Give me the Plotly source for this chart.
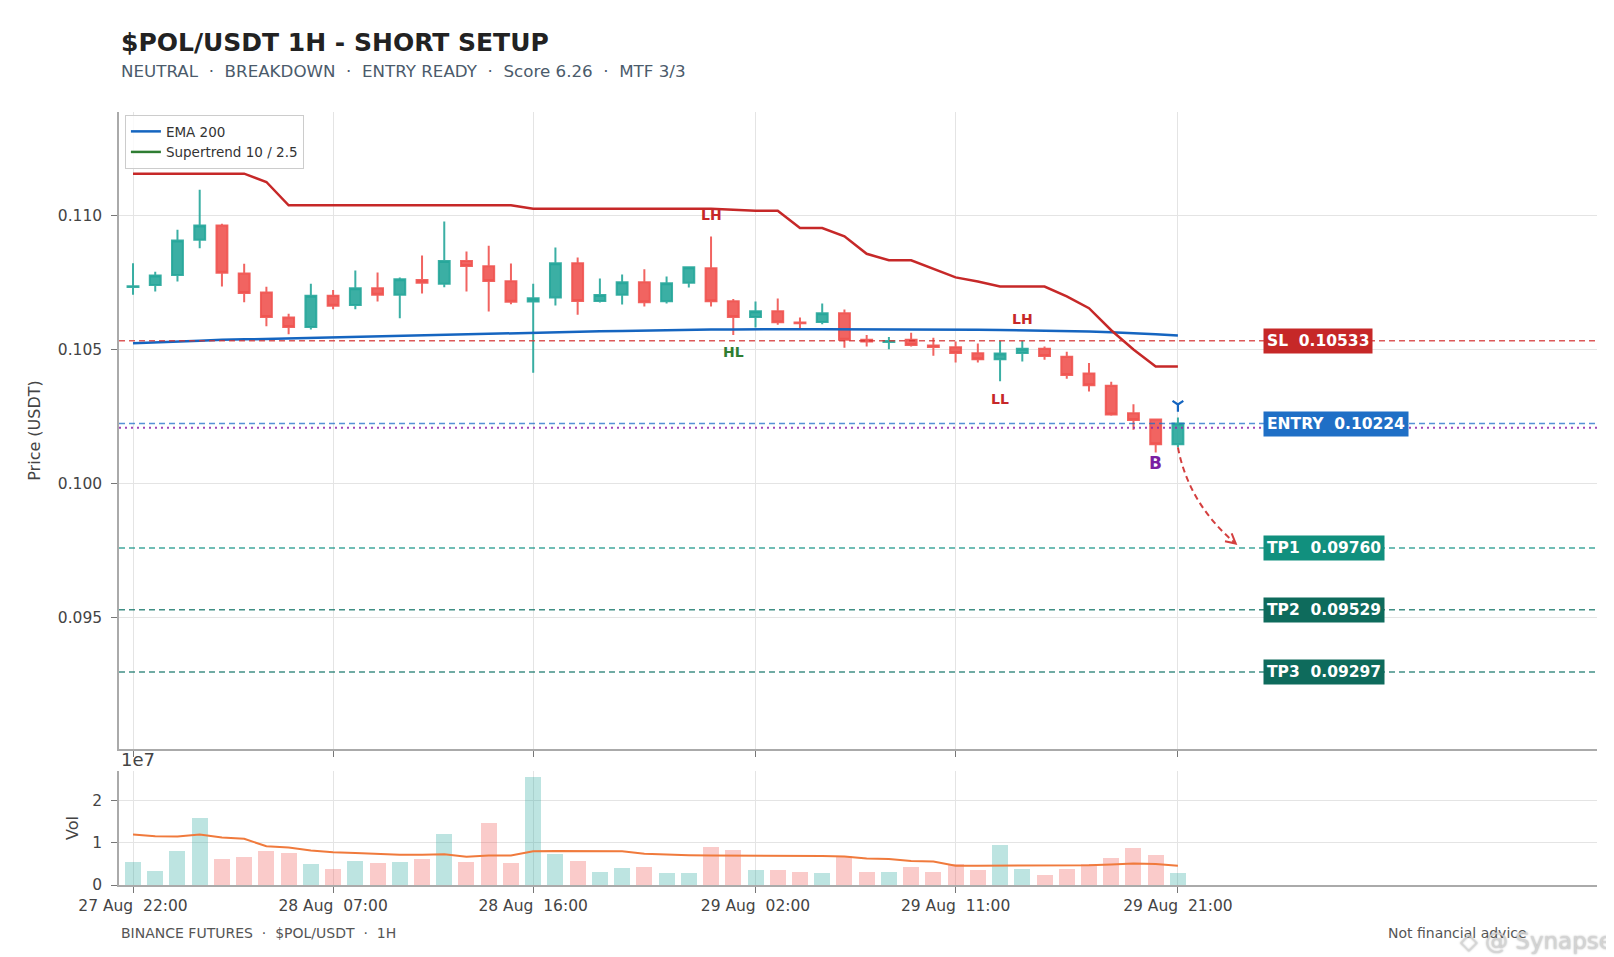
import numpy as np
import plotly.graph_objects as go
from plotly.subplots import make_subplots

NB = "\u00a0"
FONT = "DejaVu Sans"

# 1H candles, 27 Aug 22:00 -> 29 Aug 21:00
opens = [0.10733, 0.10741, 0.10778, 0.10909, 0.10963, 0.10784, 0.10713, 0.10619,
         0.10584, 0.10701, 0.10666, 0.10729, 0.10704, 0.10759, 0.10745, 0.10830,
         0.10811, 0.10755, 0.10679, 0.10694, 0.10822, 0.10681, 0.10704, 0.10751,
         0.10680, 0.10749, 0.10803, 0.10680, 0.10621, 0.10643, 0.10601, 0.10603,
         0.10635, 0.10536, 0.10528, 0.10536, 0.10515, 0.10508, 0.10486, 0.10464,
         0.10487, 0.10503, 0.10473, 0.10411, 0.10365, 0.10262, 0.10239, 0.10147]
highs = [0.10822, 0.10790, 0.10947, 0.11096, 0.10969, 0.10820, 0.10734, 0.10633,
         0.10745, 0.10722, 0.10795, 0.10787, 0.10769, 0.10851, 0.10978, 0.10866,
         0.10887, 0.10821, 0.10745, 0.10881, 0.10843, 0.10765, 0.10780, 0.10799,
         0.10772, 0.10811, 0.10922, 0.10688, 0.10679, 0.10690, 0.10619, 0.10672,
         0.10649, 0.10554, 0.10547, 0.10563, 0.10544, 0.10530, 0.10522, 0.10533,
         0.10533, 0.10511, 0.10492, 0.10450, 0.10380, 0.10296, 0.10242, 0.10246]
lows = [0.10704, 0.10716, 0.10754, 0.10878, 0.10735, 0.10676, 0.10587, 0.10557,
        0.10575, 0.10650, 0.10650, 0.10679, 0.10617, 0.10709, 0.10732, 0.10716,
        0.10642, 0.10669, 0.10413, 0.10664, 0.10630, 0.10675, 0.10668, 0.10660,
        0.10672, 0.10731, 0.10660, 0.10554, 0.10582, 0.10592, 0.10577, 0.10594,
        0.10507, 0.10511, 0.10501, 0.10511, 0.10477, 0.10452, 0.10452, 0.10382,
        0.10455, 0.10462, 0.10391, 0.10343, 0.10253, 0.10201, 0.10116, 0.10135]
closes = [0.10736, 0.10776, 0.10907, 0.10963, 0.10786, 0.10711, 0.10621, 0.10584,
          0.10701, 0.10663, 0.10729, 0.10704, 0.10762, 0.10749, 0.10830, 0.10812,
          0.10756, 0.10678, 0.10691, 0.10822, 0.10681, 0.10703, 0.10751, 0.10676,
          0.10747, 0.10807, 0.10680, 0.10621, 0.10643, 0.10602, 0.10598, 0.10635,
          0.10536, 0.10530, 0.10532, 0.10517, 0.10509, 0.10487, 0.10464, 0.10485,
          0.10503, 0.10476, 0.10405, 0.10367, 0.10258, 0.10237, 0.10147, 0.10224]

volumes = [5.4e6, 3.3e6, 8.0e6, 15.9e6, 6.1e6, 6.6e6, 8.0e6, 7.5e6,
           4.9e6, 3.7e6, 5.6e6, 5.2e6, 5.4e6, 6.3e6, 12.1e6, 5.4e6,
           14.7e6, 5.2e6, 25.6e6, 7.3e6, 5.6e6, 3.0e6, 4.0e6, 4.4e6,
           2.8e6, 2.8e6, 9.1e6, 8.4e6, 3.5e6, 3.5e6, 3.0e6, 2.8e6,
           6.8e6, 3.2e6, 3.2e6, 4.2e6, 3.2e6, 4.9e6, 3.5e6, 9.4e6,
           3.9e6, 2.5e6, 3.7e6, 4.9e6, 6.5e6, 8.9e6, 7.2e6, 2.8e6]
vol_ma = [12.0e6, 11.6e6, 11.5e6, 12.0e6, 11.3e6, 11.0e6, 9.2e6, 8.9e6,
          8.2e6, 7.8e6, 7.6e6, 7.4e6, 7.2e6, 7.2e6, 7.3e6, 6.7e6,
          7.0e6, 7.0e6, 8.0e6, 8.1e6, 8.1e6, 8.1e6, 8.0e6, 7.4e6,
          7.2e6, 7.1e6, 7.0e6, 7.0e6, 7.0e6, 7.0e6, 6.9e6, 6.9e6,
          6.8e6, 6.3e6, 6.2e6, 5.7e6, 5.6e6, 4.6e6, 4.6e6, 4.6e6,
          4.6e6, 4.6e6, 4.6e6, 4.7e6, 4.9e6, 5.1e6, 5.0e6, 4.6e6]

ema200 = [0.10523, 0.10527, 0.10530, 0.10533, 0.10536, 0.10538, 0.10540, 0.10541,
          0.10542, 0.10544, 0.10546, 0.10548, 0.10550, 0.10552, 0.10554, 0.10556,
          0.10558, 0.10560, 0.10562, 0.10564, 0.10566, 0.10568, 0.10569, 0.10571,
          0.10572, 0.10573, 0.10575, 0.10575, 0.10576, 0.10576, 0.10576, 0.10576,
          0.10576, 0.10576, 0.10575, 0.10575, 0.10575, 0.10574, 0.10574, 0.10573,
          0.10572, 0.10571, 0.10569, 0.10567, 0.10564, 0.10561, 0.10557, 0.10552]
supertrend = [0.11156, 0.11156, 0.11156, 0.11156, 0.11156, 0.11156, 0.11125, 0.11038,
              0.11038, 0.11038, 0.11038, 0.11038, 0.11038, 0.11038, 0.11038, 0.11038,
              0.11038, 0.11038, 0.11025, 0.11025, 0.11025, 0.11025, 0.11025, 0.11025,
              0.11025, 0.11025, 0.11025, 0.11021, 0.11018, 0.11018, 0.10953, 0.10953,
              0.10922, 0.10857, 0.10833, 0.10833, 0.10800, 0.10769, 0.10754, 0.10735,
              0.10735, 0.10735, 0.10698, 0.10654, 0.10572, 0.10500, 0.10437, 0.10437]

tick_idx = [0, 9, 18, 28, 37, 47]
tick_labels = ["27 Aug  22:00", "28 Aug  07:00", "28 Aug  16:00",
               "29 Aug  02:00", "29 Aug  11:00", "29 Aug  21:00"]

swing_idx = [26, 27, 39, 40]
swing_txt = ["LH", "HL", "LL", "LH"]
swing_y = [0.11001, 0.10490, 0.10314, 0.10613]

sl = 0.10533
entry = 0.10224
breakdown = 0.10208
tp1, tp2, tp3 = 0.09760, 0.09529, 0.09297

idx = list(range(len(opens)))
x_rng = [-0.63, 65.85]
y_rng = [0.0901, 0.11386]

BULL = "rgba(38,166,154,0.9)"
BEAR = "rgba(239,83,80,0.9)"

fig = make_subplots(rows=2, cols=1, shared_xaxes=True)

fig.add_trace(go.Candlestick(
    x=idx, open=opens, high=highs, low=lows, close=closes,
    increasing=dict(fillcolor=BULL, line=dict(color=BULL, width=2)),
    decreasing=dict(fillcolor=BEAR, line=dict(color=BEAR, width=2)),
    whiskerwidth=0, showlegend=False, hoverinfo="skip"), row=1, col=1)

fig.add_trace(go.Scatter(x=idx, y=ema200, mode="lines", name="EMA 200",
                         line=dict(color="#1565c0", width=2.5)), row=1, col=1)
fig.add_trace(go.Scatter(x=idx, y=supertrend, mode="lines", showlegend=False,
                         line=dict(color="#c62828", width=2.5)), row=1, col=1)
fig.add_trace(go.Scatter(x=[None], y=[None], mode="lines", name="Supertrend 10 / 2.5",
                         line=dict(color="#2e7d32", width=2.5)), row=1, col=1)

vol_cols = ["rgba(38,166,154,0.3)" if c >= o else "rgba(239,83,80,0.3)"
            for o, c in zip(opens, closes)]
fig.add_trace(go.Bar(x=idx, y=volumes, marker=dict(color=vol_cols, line=dict(width=0)),
                     width=0.72, showlegend=False, hoverinfo="skip"), row=2, col=1)
fig.add_trace(go.Scatter(x=idx, y=vol_ma, mode="lines", showlegend=False,
                         line=dict(color="#f07a3c", width=2)), row=2, col=1)

# trade levels
levels = [
    (sl, "SL", "rgba(211,47,47,0.8)", "#c62828"),
    (entry, "ENTRY", "rgba(30,110,200,0.75)", "#1f6fc6"),
    (tp1, "TP1", "rgba(0,137,123,0.75)", "#11907e"),
    (tp2, "TP2", "rgba(0,105,92,0.75)", "#0e6b5c"),
    (tp3, "TP3", "rgba(0,105,92,0.75)", "#0e6b5c"),
]
for val, name, lcol, bcol in levels:
    fig.add_hline(y=val, row=1, col=1, line=dict(color=lcol, width=1.5, dash="6px,4px"))
    fig.add_annotation(xref="paper", yref="y", x=0.774, y=val, xanchor="left",
                       yanchor="middle", showarrow=False, bgcolor=bcol, borderpad=3,
                       text=f"<b>{name}{NB}{NB}{val:.5f}</b>",
                       font=dict(family=FONT, size=15.5, color="white"))
fig.add_hline(y=breakdown, row=1, col=1,
              line=dict(color="rgba(142,36,170,0.85)", width=2, dash="2px,4px"))

# swing labels
for i, t, yv in zip(swing_idx, swing_txt, swing_y):
    col = "#2e7d32" if t == "HL" else "#c62828"
    fig.add_annotation(x=i, y=yv, text=f"<b>{t}</b>", showarrow=False,
                       font=dict(family=FONT, size=14, color=col), xref="x", yref="y")
fig.add_annotation(x=46, y=0.10075, text="<b>B</b>", showarrow=False, xref="x", yref="y",
                   font=dict(family=FONT, size=17, color="#7b1fa2"))
fig.add_trace(go.Scatter(x=[idx[-1]], y=[0.10295], mode="markers", showlegend=False,
                         hoverinfo="skip",
                         marker=dict(symbol="y-down", size=9,
                                     line=dict(color="#1565c0", width=2.2))), row=1, col=1)

# projected path to TP1
x0, y0 = idx[-1], lows[-1]
cx, cy = idx[-1] + 0.48, tp1 + 0.00165
x1, y1 = idx[-1] + 2.6, tp1 + 0.00016
fig.add_shape(type="path", xref="x", yref="y",
              path=f"M {x0},{y0} Q {cx},{cy} {x1},{y1}",
              line=dict(color="#d43f3f", width=2, dash="6px,4px"))
pxx = 1478 / (x_rng[1] - x_rng[0])
pxy = 637 / (y_rng[1] - y_rng[0])
d = np.array([(x1 - cx) * pxx, (cy - y1) * pxy])
d = d / np.linalg.norm(d)
pts = []
for ang in (np.radians(28), -np.radians(28)):
    r = np.array([[np.cos(ang), -np.sin(ang)], [np.sin(ang), np.cos(ang)]]) @ (-d * 11)
    pts.append((x1 + r[0] / pxx, y1 - r[1] / pxy))
fig.add_shape(type="path", xref="x", yref="y",
              path=f"M {pts[0][0]},{pts[0][1]} L {x1},{y1} L {pts[1][0]},{pts[1][1]}",
              line=dict(color="#d43f3f", width=2))

axis_common = dict(showgrid=True, gridcolor="#e4e4e4", gridwidth=1.2, zeroline=False,
                   showline=True, linecolor="#aaaaaa", linewidth=1.5, ticks="outside",
                   ticklen=6, tickcolor="#777777",
                   tickfont=dict(family=FONT, size=15.5, color="#444"))
fig.update_xaxes(**axis_common, range=x_rng, tickvals=tick_idx,
                 ticktext=[s.replace("  ", NB + NB) for s in tick_labels],
                 rangeslider_visible=False)
fig.update_xaxes(showticklabels=False, row=1, col=1)
fig.update_yaxes(**axis_common, ticklabelstandoff=6)
fig.update_yaxes(range=y_rng, tickvals=[0.095, 0.100, 0.105, 0.110], tickformat=".3f",
                 title=dict(text="Price (USDT)", standoff=13,
                            font=dict(family=FONT, size=16, color="#444")), row=1, col=1)
fig.update_yaxes(range=[0, 2.71e7], tickvals=[0, 1e7, 2e7], ticktext=["0", "1", "2"],
                 title=dict(text="Vol", standoff=10,
                            font=dict(family=FONT, size=16, color="#444")), row=2, col=1)

fig.update_layout(
    width=1614, height=957,
    margin=dict(l=111, r=25, t=104, b=80),
    paper_bgcolor="white", plot_bgcolor="white",
    font=dict(family=FONT, color="#444"),
    yaxis=dict(domain=[0.176, 1.0]),
    yaxis2=dict(domain=[0.0, 0.1475]),
    legend=dict(x=0.004, y=0.996, xanchor="left", yanchor="top",
                bgcolor="rgba(255,255,255,0.8)", bordercolor="#cccccc", borderwidth=1,
                font=dict(family=FONT, size=13.5, color="#333")),
    bargap=0,
)

fig.add_annotation(xref="paper", yref="paper", x=0, y=1.0893, xanchor="left", yanchor="middle",
                   showarrow=False, text="<b>$POL/USDT 1H - SHORT SETUP</b>",
                   font=dict(family=FONT, size=25, color="#222222"))
sub = f"{NB}{NB}·{NB}{NB}".join(["NEUTRAL", "BREAKDOWN", "ENTRY READY", "Score 6.26", "MTF 3/3"])
fig.add_annotation(xref="paper", yref="paper", x=0, y=1.053, xanchor="left", yanchor="middle",
                   showarrow=False, text=sub, font=dict(family=FONT, size=16.7, color="#4b5b6b"))
fig.add_annotation(xref="paper", yref="paper", x=0, y=0.163, xanchor="left", yanchor="middle",
                   showarrow=False, text="1e7", font=dict(family=FONT, size=18, color="#444"))
foot = f"{NB}{NB}·{NB}{NB}".join(["BINANCE FUTURES", "$POL/USDT", "1H"])
fig.add_annotation(xref="paper", yref="paper", x=0, y=-0.062, xanchor="left", yanchor="middle",
                   showarrow=False, text=foot, font=dict(family=FONT, size=14, color="#555"))
fig.add_annotation(xref="paper", yref="paper", x=0.954, y=-0.062, xanchor="right",
                   yanchor="middle", showarrow=False, text="Not financial advice",
                   font=dict(family=FONT, size=14, color="#555"))
# platform watermark
fig.add_annotation(xref="paper", yref="paper", x=1.012, y=-0.073, xanchor="right",
                   yanchor="middle", showarrow=False, text=f"◇{NB}@{NB}Synapse",
                   font=dict(family=FONT, size=23, color="rgba(215,215,215,0.85)",
                             shadow="0px 0px 2px rgba(110,110,110,0.7)"))

fig.write_html("out.html")
